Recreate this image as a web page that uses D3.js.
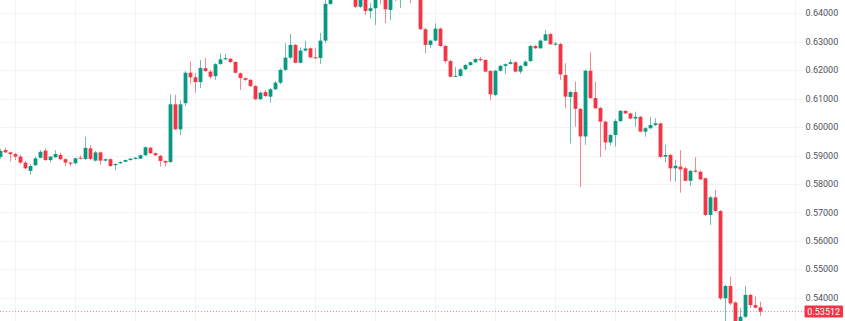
<!DOCTYPE html>
<html><head><meta charset="utf-8">
<script src="https://cdn.jsdelivr.net/npm/d3@7"></script>
<style>
html,body{margin:0;padding:0;background:#fff;}
svg{display:block;}
</style></head>
<body>
<svg id="chart" width="845" height="321"></svg>
<script>
// OHLC values (one entry per candle, left to right)
const openP = [
.5895,.5919,.5911,.5905,.5896,.5875,.5846,.5866,.5892,.5917,
.5884,.5894,.5902,.5887,.5875,.5873,.5892,.5888,.5925,.5882,
.5911,.5882,.5887,.5866,.5873,.5878,.5884,.5888,.5889,.5901,
.5927,.5908,.5899,.5881,.5877,.6080,.5992,.6084,.6191,.6175,
.6158,.6207,.6195,.6179,.6222,.6238,.6240,.6229,.6189,.6172,
.6166,.6144,.6098,.6123,.6107,.6133,.6156,.6201,.6244,.6289,
.6226,.6269,.6277,.6245,.6243,.6304,.6433,.6475,.6517,.6500,
.6482,.6464,.6423,.6457,.6408,.6418,.6454,.6450,.6412,.6457,
.6468,.6482,.6475,.6464,.6457,.6344,.6289,.6304,.6346,.6285,
.6232,.6178,.6180,.6203,.6218,.6228,.6239,.6236,.6197,.6113,
.6198,.6215,.6222,.6228,.6195,.6215,.6232,.6285,.6277,.6304,
.6327,.6290,.6292,.6183,.6106,.6123,.6064,.5967,.6198,.6102,
.6067,.6019,.5946,.5972,.6021,.6057,.6048,.6030,.6036,.5984,
.5996,.6007,.6013,.5896,.5902,.5855,.5861,.5855,.5811,.5847,
.5843,.5820,.5691,.5753,.5705,.5398,.5441,.5383,.5304,.5333,
.5410,.5374,.5366];
const highP = [
.5923,.5928,.5912,.5909,.5902,.5881,.5870,.5896,.5919,.5926,
.5898,.5919,.5910,.5890,.5877,.5893,.5900,.5966,.5937,.5916,
.5914,.5890,.5890,.5872,.5879,.5886,.5891,.5895,.5904,.5932,
.5930,.5911,.5902,.5882,.6115,.6113,.6095,.6197,.6230,.6190,
.6236,.6242,.6201,.6225,.6259,.6257,.6243,.6231,.6192,.6174,
.6169,.6148,.6125,.6130,.6137,.6162,.6206,.6295,.6327,.6292,
.6280,.6304,.6280,.6277,.6331,.6447,.6500,.6535,.6545,.6524,
.6500,.6482,.6475,.6468,.6436,.6468,.6475,.6461,.6475,.6482,
.6500,.6500,.6496,.6482,.6468,.6348,.6308,.6365,.6350,.6289,
.6236,.6211,.6206,.6222,.6231,.6243,.6247,.6238,.6201,.6201,
.6218,.6224,.6238,.6231,.6218,.6234,.6289,.6289,.6308,.6341,
.6331,.6299,.6296,.6224,.6127,.6160,.6067,.6202,.6264,.6160,
.6071,.6023,.5976,.6028,.6060,.6058,.6050,.6054,.6039,.6000,
.6036,.6031,.6016,.5937,.5905,.5884,.5919,.5860,.5849,.5894,
.5847,.5823,.5758,.5779,.5708,.5445,.5474,.5387,.5364,.5441,
.5413,.5404,.5386];
const lowP = [
.5888,.5909,.5879,.5884,.5870,.5851,.5832,.5863,.5890,.5881,
.5876,.5891,.5884,.5863,.5863,.5870,.5886,.5884,.5884,.5879,
.5867,.5879,.5860,.5849,.5870,.5877,.5882,.5886,.5888,.5898,
.5905,.5898,.5861,.5861,.5874,.5990,.5972,.6074,.6151,.6120,
.6137,.6194,.6169,.6166,.6218,.6236,.6225,.6188,.6130,.6162,
.6141,.6095,.6095,.6106,.6086,.6130,.6151,.6197,.6239,.6224,
.6224,.6266,.6243,.6240,.6222,.6296,.6429,.6464,.6482,.6464,
.6454,.6419,.6419,.6394,.6382,.6359,.6433,.6365,.6376,.6443,
.6418,.6457,.6436,.6450,.6341,.6259,.6278,.6301,.6282,.6224,
.6174,.6176,.6176,.6201,.6215,.6225,.6232,.6192,.6095,.6109,
.6195,.6187,.6220,.6192,.6187,.6213,.6229,.6275,.6275,.6303,
.6289,.6285,.6166,.6066,.5942,.6001,.5789,.5937,.6099,.6064,
.5895,.5919,.5934,.5931,.6018,.6046,.6027,.6001,.5981,.5966,
.5993,.6004,.5891,.5877,.5808,.5808,.5769,.5809,.5793,.5840,
.5814,.5687,.5656,.5701,.5392,.5287,.5374,.5287,.5294,.5329,
.5364,.5363,.5336];
const closeP = [
.5916,.5911,.5905,.5896,.5875,.5855,.5863,.5890,.5913,.5884,
.5896,.5905,.5887,.5875,.5871,.5890,.5889,.5927,.5888,.5911,
.5882,.5887,.5863,.5870,.5877,.5884,.5889,.5892,.5901,.5929,
.5908,.5901,.5881,.5875,.6080,.5992,.6080,.6191,.6175,.6158,
.6208,.6197,.6177,.6221,.6238,.6242,.6229,.6191,.6172,.6166,
.6144,.6098,.6121,.6109,.6133,.6156,.6201,.6244,.6289,.6226,
.6269,.6276,.6245,.6242,.6304,.6433,.6475,.6517,.6500,.6482,
.6464,.6423,.6457,.6408,.6418,.6454,.6450,.6414,.6457,.6468,
.6482,.6475,.6464,.6457,.6344,.6289,.6304,.6346,.6285,.6232,
.6177,.6180,.6203,.6218,.6228,.6239,.6235,.6195,.6115,.6198,
.6215,.6221,.6228,.6195,.6215,.6230,.6285,.6277,.6304,.6326,
.6291,.6294,.6185,.6107,.6123,.6064,.5967,.6198,.6102,.6066,
.6019,.5946,.5972,.6021,.6057,.6048,.6030,.6036,.5984,.5996,
.6007,.6013,.5895,.5902,.5855,.5864,.5851,.5811,.5846,.5843,
.5816,.5691,.5753,.5705,.5398,.5441,.5380,.5301,.5333,.5410,
.5374,.5365,.53512];
const priceTicks = [0.54,0.55,0.56,0.57,0.58,0.59,0.60,0.61,0.62,0.63,0.64];
const lastPrice = 0.53512;

const UP = "#089981", DOWN = "#f23645";
const W = 845, H = 321, plotRight = 803;

const data = openP.map((o,i)=>({i, o, h:highP[i], l:lowP[i], c:closeP[i]}));

const svg = d3.select("#chart");
const x = d3.scaleLinear().domain([0, data.length-1]).range([0.5, 760.5]);
const y = d3.scaleLinear().domain([0.54, 0.64]).range([297.7, 13.3]);

// grid
const grid = svg.append("g").attr("shape-rendering","crispEdges");
grid.selectAll("line.h").data(priceTicks).join("line")
  .attr("x1",0).attr("x2",plotRight)
  .attr("y1",d=>Math.round(y(d))+0.5).attr("y2",d=>Math.round(y(d))+0.5)
  .attr("stroke","#f2f3f5").attr("stroke-width",1);
const vgrid = d3.range(15, plotRight, 60);
grid.selectAll("line.v").data(vgrid).join("line")
  .attr("x1",d=>d+0.5).attr("x2",d=>d+0.5).attr("y1",0).attr("y2",H)
  .attr("stroke","#f2f3f5").attr("stroke-width",1);

// clip
svg.append("clipPath").attr("id","plot").append("rect")
  .attr("x",0).attr("y",0).attr("width",plotRight).attr("height",H);

const g = svg.append("g").attr("clip-path","url(#plot)");
// wicks
g.selectAll("line.wick").data(data).join("line")
  .attr("x1",d=>x(d.i)).attr("x2",d=>x(d.i))
  .attr("y1",d=>y(d.h)).attr("y2",d=>y(d.l))
  .attr("stroke",d=>d.c>=d.o?UP:DOWN).attr("stroke-opacity",0.6).attr("stroke-width",1);
// bodies
g.selectAll("rect.body").data(data).join("rect")
  .attr("x",d=>x(d.i)-1.9).attr("width",3.8)
  .attr("y",d=>y(Math.max(d.o,d.c)))
  .attr("height",d=>Math.max(1,Math.abs(y(d.o)-y(d.c))))
  .attr("fill",d=>d.c>=d.o?UP:DOWN);

// last price dotted line
svg.append("line")
  .attr("x1",0).attr("x2",805).attr("y1",y(lastPrice)).attr("y2",y(lastPrice))
  .attr("stroke",DOWN).attr("stroke-opacity",0.6).attr("stroke-width",1).attr("stroke-dasharray","1,2");

// axis labels
const fmt = d3.format(".5f");
svg.append("g").selectAll("text").data(priceTicks).join("text")
  .attr("x",805.5).attr("y",d=>y(d)).attr("dy","0.35em")
  .attr("font-family","Roboto, 'Noto Sans', sans-serif").attr("font-size",9)
  .attr("fill","#50535e").text(d=>fmt(d));

// last price tag
const ly = y(lastPrice);
svg.append("rect").attr("x",804.5).attr("y",ly-6).attr("width",38.5).attr("height",12)
  .attr("fill",DOWN).attr("rx",1);
svg.append("text").attr("x",823.7).attr("y",ly).attr("dy","0.35em").attr("text-anchor","middle")
  .attr("font-family","Roboto, 'Noto Sans', sans-serif").attr("font-size",9)
  .attr("fill","#fff").text(fmt(lastPrice));
</script>
</body></html>
